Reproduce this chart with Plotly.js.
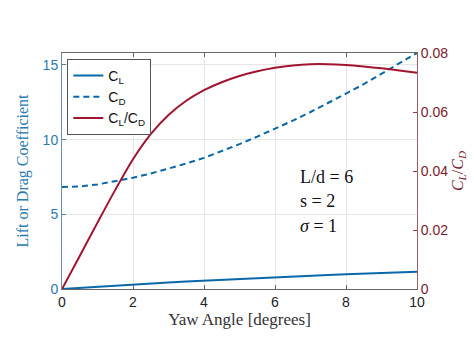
<!DOCTYPE html>
<html>
<head>
<meta charset="utf-8">
<script src="https://cdn.plot.ly/plotly-3.0.1.min.js"></script>
<style>html,body{margin:0;padding:0;background:#fff;}#chart{width:474px;height:355px;}</style>
</head>
<body>
<div id="chart"></div>
<script>
// Yaw angle (degrees)
const yaw = [0, 0.5, 1, 1.5, 2, 2.5, 3, 3.5, 4, 4.5, 5, 5.5, 6, 6.5, 7, 7.5, 8, 8.5, 9, 9.5, 10];
// Lift coefficient C_L
const cl = [0, 0.08, 0.16, 0.24, 0.31, 0.38, 0.44, 0.50, 0.56, 0.62, 0.67, 0.73, 0.78, 0.83, 0.88, 0.93, 0.98, 1.03, 1.07, 1.12, 1.16];
// Drag coefficient C_D
const cd = [6.83, 6.87, 7.0, 7.2, 7.45, 7.73, 8.05, 8.4, 8.78, 9.22, 9.7, 10.2, 10.72, 11.27, 11.85, 12.45, 13.08, 13.72, 14.4, 15.1, 15.8];
// Ratio C_L/C_D (right axis)
const ratio = [0, 0.0112, 0.0225, 0.0336, 0.0440, 0.0525, 0.0590, 0.0638, 0.0674, 0.0701, 0.0722, 0.0738, 0.0750, 0.0758, 0.0762, 0.0762, 0.0759, 0.0754, 0.0748, 0.0741, 0.0733];

const leftTicks = [0, 5, 10, 15];
const rightTicks = [0, 0.02, 0.04, 0.06, 0.08];
const xTicks = [0, 2, 4, 6, 8, 10];
const notes = ["L/d = 6", "s = 2", "<i>σ</i> = 1"];

const blue = '#0b68a8';
const red = '#a2142f';
const serif = '"Liberation Serif", "DejaVu Serif", serif';
const sans = '"Liberation Sans", Arial, sans-serif';

const traces = [
  {x: yaw, y: cl, name: 'C<sub>L</sub>', mode: 'lines', line: {color: blue, width: 2}, yaxis: 'y'},
  {x: yaw, y: cd, name: 'C<sub>D</sub>', mode: 'lines', line: {color: blue, width: 2, dash: '6px,4px'}, yaxis: 'y'},
  {x: yaw, y: ratio, name: 'C<sub>L</sub>/C<sub>D</sub>', mode: 'lines', line: {color: red, width: 2, shape: 'spline', smoothing: 0.8}, yaxis: 'y2'}
];

const annotations = notes.map((t, i) => ({
  text: t, xref: 'paper', yref: 'paper', x: 0.665, y: 0.475 - i * 0.103,
  xanchor: 'left', yanchor: 'middle', showarrow: false,
  font: {family: serif, size: 18, color: '#111'}
}));

const layout = {
  width: 474, height: 355,
  margin: {l: 62, r: 57, t: 53, b: 66},
  paper_bgcolor: '#fff', plot_bgcolor: '#fff',
  showlegend: true,
  legend: {x: 0.015, y: 0.975, xanchor: 'left', yanchor: 'top', bgcolor: '#fff',
           bordercolor: '#555', borderwidth: 1, font: {family: sans, size: 14, color: '#111'},
           itemwidth: 30},
  xaxis: {range: [0, 10], tickvals: xTicks, showgrid: true, gridcolor: '#e6e6e6',
          ticks: 'inside', ticklen: 4, tickcolor: '#666', mirror: 'ticks', showline: true,
          linecolor: '#666', linewidth: 1, zeroline: false,
          tickfont: {family: sans, size: 14, color: '#222'},
          title: {text: 'Yaw Angle [degrees]', font: {family: serif, size: 17, color: '#333'}, standoff: 4}},
  yaxis: {range: [0, 15.8], tickvals: leftTicks, showgrid: true, gridcolor: '#e6e6e6',
          ticks: 'inside', ticklen: 4, tickcolor: '#4a7fa6', showline: true, linecolor: '#6a8fae',
          linewidth: 1, zeroline: false,
          tickfont: {family: sans, size: 14, color: '#2a7ab0'},
          title: {text: 'Lift or Drag Coefficient', font: {family: serif, size: 16, color: '#2a7ab0'}, standoff: 10}},
  yaxis2: {range: [0, 0.08], tickvals: rightTicks, ticktext: ['0', '0.02', '0.04', '0.06', '0.08'],
           overlaying: 'y', side: 'right', showgrid: false,
           ticks: 'inside', ticklen: 4, tickcolor: '#8a4050', showline: true, linecolor: '#9a6070',
           linewidth: 1, zeroline: false,
           tickfont: {family: sans, size: 14, color: '#7a1a2c'},
           title: {text: '<i>C<sub>L</sub></i>/<i>C<sub>D</sub></i>', font: {family: serif, size: 16, color: '#7a1a2c'}, standoff: 4}},
  annotations: annotations
};

Plotly.newPlot('chart', traces, layout, {displayModeBar: false, staticPlot: true});
</script>
</body>
</html>
